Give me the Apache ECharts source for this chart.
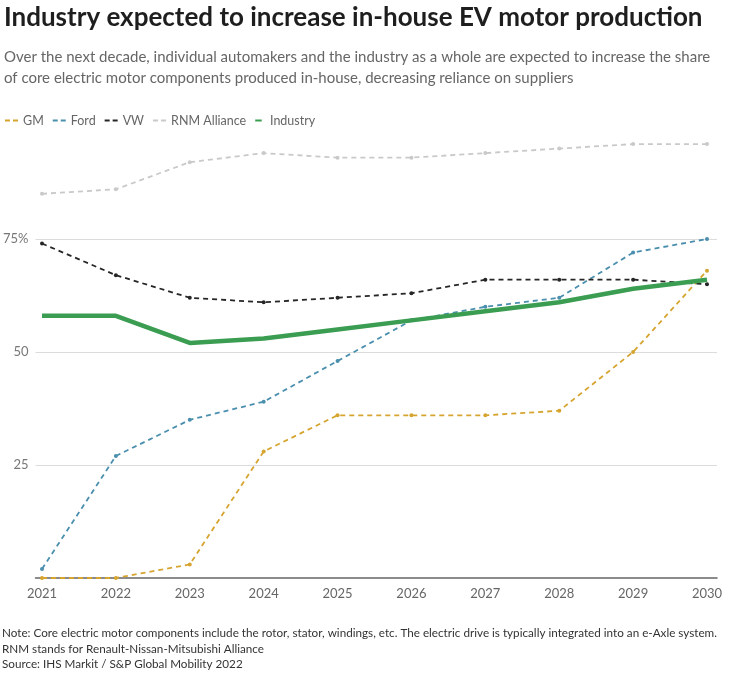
<!DOCTYPE html>
<html>
<head>
<meta charset="utf-8">
<script src="https://cdn.jsdelivr.net/npm/echarts@6/dist/echarts.min.js"></script>
<style>
html,body{margin:0;padding:0;background:#fff;}
#c{width:730px;height:676px;}
</style>
</head>
<body>
<div id="c"></div>
<script>
var years = ['2021','2022','2023','2024','2025','2026','2027','2028','2029','2030'];
var gm = [0, 0, 3, 28, 36, 36, 36, 37, 50, 68];
var ford = [2, 27, 35, 39, 48, 57, 60, 62, 72, 75];
var vw = [74, 67, 62, 61, 62, 63, 66, 66, 66, 65];
var rnm = [85, 86, 92, 94, 93, 93, 94, 95, 96, 96];
var industry = [58, 58, 52, 53, 55, 57, 59, 61, 64, 66];
var yTicks = [0, 25, 50, 75, 100];

var FONT = 'Lato, "Noto Sans", sans-serif';
var colors = {gm:'#d6a530', ford:'#4b8fae', vw:'#262626', rnm:'#c9c9c9', ind:'#3a9d51'};
var dashIcon = 'path://M0 0H5V2H0Z M8 0H13V2H8Z';

function dashed(name, data, color, z) {
  return {
    name: name, type: 'line', data: data, xAxisIndex: 1, yAxisIndex: 1,
    symbol: 'circle', symbolSize: 4, showSymbol: true, z: z,
    itemStyle: {color: color},
    lineStyle: {color: color, width: 1.8, type: [5, 4]},
    emphasis: {disabled: true}, animation: false
  };
}

var chart = echarts.init(document.getElementById('c'), null, {renderer: 'canvas'});
chart.setOption({
  animation: false,
  textStyle: {fontFamily: FONT},
  grid: [
    {left: 33, right: 13, top: 126, bottom: 98},
    {left: 42, right: 23, top: 126, bottom: 98}
  ],
  xAxis: [
    {type: 'value', gridIndex: 0, min: 0, max: 1, show: true,
     axisLabel: {show: false}, axisTick: {show: false}, splitLine: {show: false},
     axisLine: {show: true, onZero: false, lineStyle: {color: '#666', width: 1.5}}},
    {type: 'category', gridIndex: 1, data: years, boundaryGap: false,
     axisLine: {show: false}, axisTick: {show: false},
     axisLabel: {color: '#666', fontSize: 13, margin: 9, fontFamily: FONT, interval: 0}}
  ],
  yAxis: [
    {type: 'value', gridIndex: 0, min: yTicks[0], max: yTicks[yTicks.length-1], interval: 25,
     axisLine: {show: false}, axisTick: {show: false},
     axisLabel: {color: '#777', fontSize: 13, margin: 7, fontFamily: FONT,
       formatter: function (v) { if (v === 0 || v === 100) return ''; return v === 75 ? '75%' : String(v); }},
     splitLine: {show: true, lineStyle: {color: ['transparent', '#dcdcdc', '#dcdcdc', '#dcdcdc', 'transparent'], width: 1.2}}},
    {type: 'value', gridIndex: 1, min: yTicks[0], max: yTicks[yTicks.length-1], interval: 25, show: false}
  ],
  legend: {
    left: 0, top: 109, itemWidth: 13, itemHeight: 2, itemGap: 9,
    textStyle: {color: '#666', fontSize: 12.5, fontFamily: FONT},
    selectedMode: false,
    data: [
      {name: 'GM', icon: dashIcon},
      {name: 'Ford', icon: dashIcon},
      {name: 'VW', icon: dashIcon},
      {name: 'RNM Alliance', icon: dashIcon},
      {name: 'Industry', icon: 'path://M0 0H13V4H0Z', itemStyle: {color: colors.ind}}
    ]
  },
  series: [
    dashed('GM', gm, colors.gm, 3),
    dashed('Ford', ford, colors.ford, 4),
    dashed('VW', vw, colors.vw, 5),
    dashed('RNM Alliance', rnm, colors.rnm, 2),
    {name: 'Industry', type: 'line', data: industry, xAxisIndex: 1, yAxisIndex: 1,
     showSymbol: false, symbol: 'none', z: 6, itemStyle: {color: colors.ind},
     lineStyle: {color: colors.ind, width: 4.5}, emphasis: {disabled: true}, animation: false}
  ],
  graphic: [
    {type: 'text', left: 4, top: 5, style: {text: 'Industry expected to increase in-house EV motor production',
      fill: '#1e1e1e', font: 'bold 26px ' + FONT}},
    {type: 'text', left: 4, top: 47, style: {text: 'Over the next decade, individual automakers and the industry as a whole are expected to increase the share\nof core electric motor components produced in-house, decreasing reliance on suppliers',
      fill: '#666', font: '15px ' + FONT, lineHeight: 21}},
    {type: 'text', left: 2, top: 625, style: {text: 'Note: Core electric motor components include the rotor, stator, windings, etc. The electric drive is typically integrated into an e-Axle system.\nRNM stands for Renault-Nissan-Mitsubishi Alliance',
      fill: '#333', font: '11.7px ' + FONT, lineHeight: 16}},
    {type: 'text', left: 2, top: 658, style: {text: 'Source: IHS Markit / S&P Global Mobility 2022',
      fill: '#333', font: '11.7px ' + FONT}}
  ]
});
</script>
</body>
</html>
